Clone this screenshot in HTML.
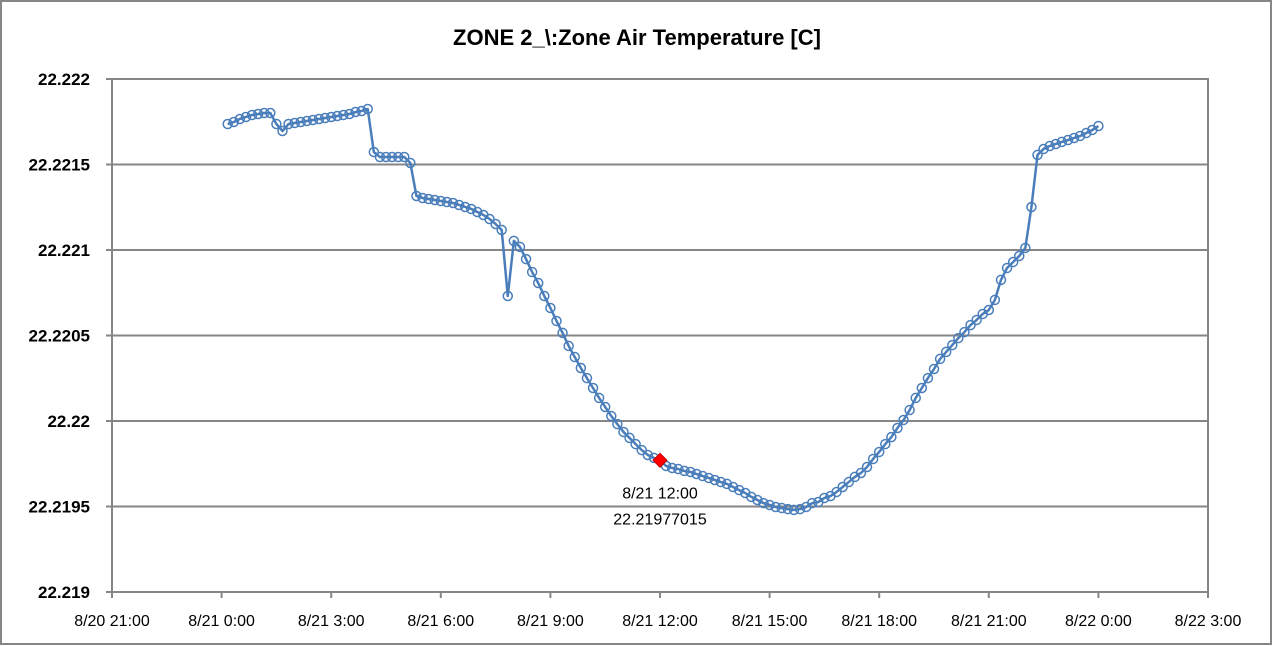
<!DOCTYPE html>
<html><head><meta charset="utf-8"><style>
html,body{margin:0;padding:0;background:#fff;}
svg{display:block;font-family:"Liberation Sans",Arial,sans-serif;}
</style></head><body>
<svg id="chart" width="1273" height="646" viewBox="0 0 1273 646">
<rect x="1" y="1" width="1270" height="643" fill="#fff" stroke="#868686" stroke-width="2"/>
<text x="637" y="45" text-anchor="middle" font-size="22" font-weight="bold" fill="#000">ZONE 2_\:Zone Air Temperature [C]</text>
<g id="grid"></g><g id="axes"></g><g id="series"></g><g id="annot"></g>
</svg>
<script>
const yTicks = [22.219, 22.2195, 22.22, 22.2205, 22.221, 22.2215, 22.222];
const yTickLabels = ["22.219","22.2195","22.22","22.2205","22.221","22.2215","22.222"];
const xTickHours = [-3, 0, 3, 6, 9, 12, 15, 18, 21, 24, 27];
const xTickLabels = ["8/20 21:00","8/21 0:00","8/21 3:00","8/21 6:00","8/21 9:00","8/21 12:00","8/21 15:00","8/21 18:00","8/21 21:00","8/22 0:00","8/22 3:00"];
const stepMinutes = 10;
const temps = [
22.2217368,22.2217485,22.2217661,22.2217778,22.2217895,22.2217953,22.2218012,22.2218012,
22.2217368,22.2216959,22.2217368,22.2217427,
22.2217485,22.2217544,22.2217602,22.2217661,22.2217719,22.2217778,22.2217836,22.2217895,22.2217953,22.2218070,22.2218129,22.2218246,
22.2215731,22.2215439,22.2215439,22.2215439,22.2215439,22.2215439,22.2215088,
22.2213158,22.2213041,22.2212982,22.2212924,22.2212865,22.2212807,22.2212749,22.2212632,22.2212515,22.2212398,22.2212222,22.2212047,22.2211813,22.2211520,22.2211170,
22.220731,
22.221053,22.221018,22.220947,22.220871,22.220807,22.220731,22.220661,22.220585,22.220515,22.220439,22.220374,22.220310,22.220251,22.220193,22.220135,22.220082,22.220029,22.219982,22.219936,22.219901,22.219865,22.219830,22.219801,22.219784,
22.21977015,
22.219737,22.219725,22.219719,22.219708,22.219702,22.219690,22.219678,22.219667,22.219655,22.219643,22.219632,22.219614,22.219596,22.219579,22.219556,22.219538,22.219520,22.219509,22.219497,22.219491,22.219485,22.219480,22.219485,22.219497,
22.219520,22.219526,22.219550,22.219561,22.219585,22.219614,22.219643,22.219673,22.219696,22.219731,22.219778,22.219819,22.219865,22.219906,22.219959,22.220006,22.220064,22.220135,22.220193,22.220251,22.220304,22.220363,22.220404,22.220444,22.220485,22.220520,22.220561,22.220591,22.220626,22.220649,
22.220708,22.220825,22.220895,22.220930,22.220965,22.221012,22.2212515,22.221556,
22.221591,22.221608,22.221620,22.221632,22.221643,22.221655,22.221667,22.221684,22.221702,22.221725
];
const highlightIndex = 71;
const highlightLabel = ["8/21 12:00","22.21977015"];

const NS="http://www.w3.org/2000/svg";
const L=112,R=1208,T=79,B=592;
const xMin=-3,xMax=27,yMin=22.219,yMax=22.222;
function xs(h){return L+(h-xMin)/(xMax-xMin)*(R-L);}
function ys(v){return B-(v-yMin)/(yMax-yMin)*(B-T);}
function mk(tag,attrs,parent){const e=document.createElementNS(NS,tag);for(const k in attrs)e.setAttribute(k,attrs[k]);parent.appendChild(e);return e;}
const grid=document.getElementById('grid'),axes=document.getElementById('axes'),series=document.getElementById('series'),annot=document.getElementById('annot');
mk('rect',{x:L,y:T,width:R-L,height:B-T,fill:'#fff',stroke:'#868686','stroke-width':2},grid);
yTicks.forEach((v,i)=>{
  const y=ys(v);
  const g=mk('line',{x1:L-6,x2:R,y1:y,y2:y,stroke:'#868686','stroke-width':2},grid);
  
  
  const t=mk('text',{x:90,y:y+6,'text-anchor':'end','font-size':17,'font-weight':'bold',fill:'#000'},axes);
  t.textContent=yTickLabels[i];
  
  
});
xTickHours.forEach((h,i)=>{
  const x=xs(h);
  const tk=mk('line',{x1:x,x2:x,y1:B,y2:B+6,stroke:'#868686','stroke-width':2},axes);
  
  
  const t=mk('text',{x:x,y:626,'text-anchor':'middle','font-size':16,fill:'#000'},axes);
  t.textContent=xTickLabels[i];
  
  
});
const pts=temps.map((v,i)=>[xs((i+1)*stepMinutes/60),ys(v)]);
const line=mk('polyline',{points:pts.map(p=>p.join(',')).join(' '),fill:'none',stroke:'#4a7ebb','stroke-width':2.5,'stroke-linejoin':'round'},series);


pts.forEach(p=>{
  const c=mk('circle',{cx:p[0],cy:p[1],r:4.5,fill:'none',stroke:'#4a7ebb','stroke-width':1.5},series);
  
  
});
const hp=pts[highlightIndex];
const d=mk('polygon',{points:`${hp[0]},${hp[1]-7} ${hp[0]+7},${hp[1]} ${hp[0]},${hp[1]+7} ${hp[0]-7},${hp[1]}`,fill:'#ff0000',stroke:'#c00000','stroke-width':1},annot);


highlightLabel.forEach((s,i)=>{
  const t=mk('text',{x:hp[0],y:hp[1]+38+i*26,'text-anchor':'middle','font-size':16,fill:'#000'},annot);
  t.textContent=s;
  
  
});
</script>
</body></html>
